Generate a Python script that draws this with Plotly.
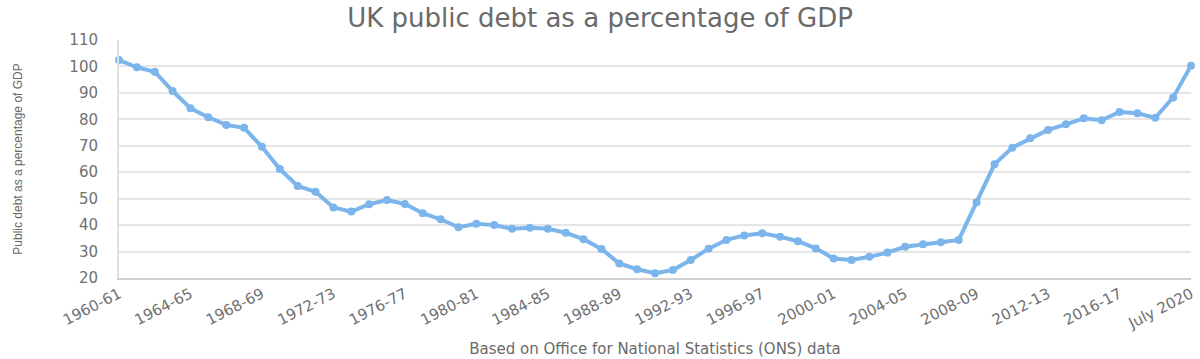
import plotly.graph_objects as go

# Fiscal years 1960-61 ... 2019-20, then July 2020
categories = [f"{y}-{str(y + 1)[-2:]}" for y in range(1960, 2020)] + ["July 2020"]

debt_pct = [
    102.4, 99.7, 98.0, 90.7, 84.2, 80.8, 77.9, 76.8, 69.6, 61.2,
    54.8, 52.6, 46.7, 45.1, 47.9, 49.5, 48.0, 44.5, 42.2, 39.2,
    40.5, 40.0, 38.6, 39.0, 38.6, 37.1, 34.7, 31.0, 25.5, 23.3,
    21.8, 23.0, 26.8, 31.1, 34.4, 36.1, 36.9, 35.6, 33.9, 31.2,
    27.4, 26.8, 28.0, 29.6, 31.8, 32.8, 33.5, 34.4, 48.6, 63.0,
    69.3, 72.8, 76.0, 78.1, 80.4, 79.7, 82.8, 82.3, 80.6, 88.3,
    100.3,
]

x_tick_labels = ["1960-61", "1964-65", "1968-69", "1972-73", "1976-77", "1980-81",
                 "1984-85", "1988-89", "1992-93", "1996-97", "2000-01", "2004-05",
                 "2008-09", "2012-13", "2016-17", "July 2020"]
y_tick_values = [20, 30, 40, 50, 60, 70, 80, 90, 100, 110]

title_text = "UK public debt as a percentage of GDP"
y_title = "Public debt as a percentage of GDP"
x_title = "Based on Office for National Statistics (ONS) data"

fig = go.Figure()
fig.add_trace(go.Scatter(
    x=categories, y=debt_pct, mode="lines+markers",
    line=dict(color="#7cb5ec", width=4),
    marker=dict(color="#7cb5ec", size=8),
    showlegend=False, cliponaxis=False,
))

fig.update_layout(
    width=1200, height=359,
    margin=dict(l=119, r=9, t=40, b=81),
    paper_bgcolor="white", plot_bgcolor="white",
    title=dict(text=title_text, x=0.5, xanchor="center", y=0.95, yanchor="middle",
               font=dict(family="DejaVu Sans", size=26, color="#6a6a6a")),
    font=dict(family="Liberation Sans", color="#666666"),
)

fig.update_xaxes(
    type="category", range=[0, len(categories) - 1], automargin=False,
    tickmode="array", tickvals=x_tick_labels, ticktext=x_tick_labels,
    tickangle=-27, tickfont=dict(family="DejaVu Sans", size=15, color="#707070"),
    showgrid=False, showline=True, linecolor="#d0d0d0", linewidth=1.5,
    ticks="", zeroline=False,
    title=dict(text=x_title, standoff=12,
               font=dict(family="DejaVu Sans", size=15, color="#6a6a6a")),
)

fig.update_yaxes(
    range=[20, 110], tickmode="array", tickvals=y_tick_values, automargin=False,
    tickfont=dict(family="DejaVu Sans", size=15, color="#707070"),
    showgrid=True, gridcolor="#e6e6e6", gridwidth=1.5,
    showline=True, linecolor="#e0e0e0", linewidth=2,
    zeroline=False, ticks="", ticklabelstandoff=16,
    title=dict(text=y_title, standoff=44,
               font=dict(family="Liberation Sans Narrow, Liberation Sans", size=12, color="#666666")),
)

fig.write_html("out.html")
